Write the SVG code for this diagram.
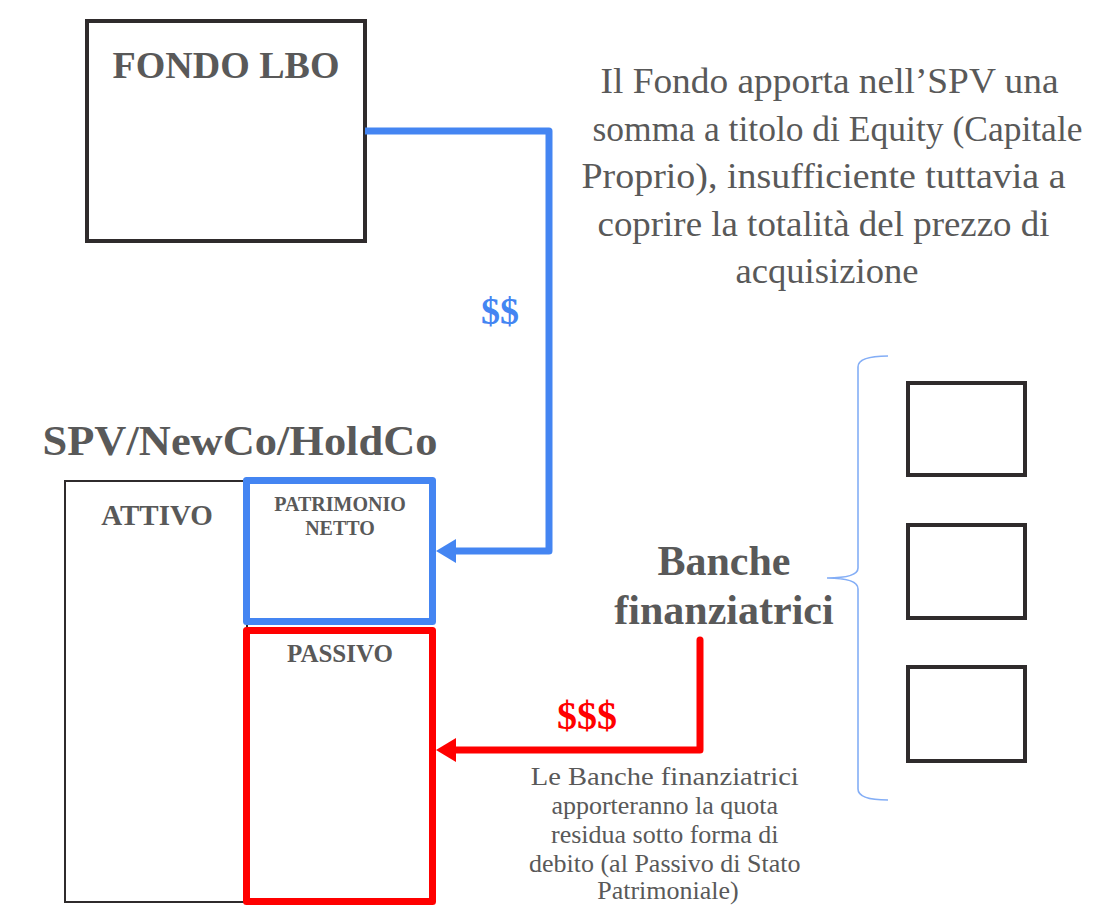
<svg xmlns="http://www.w3.org/2000/svg" width="1097" height="908" viewBox="0 0 1097 908">
<style>
.t{font-family:"Liberation Serif","Times New Roman",serif;fill:#595959;text-anchor:middle}
.b{font-weight:bold}
.box{fill:#fff;stroke:#2f2b2c}
.conn{fill:none;stroke-width:7;stroke-linejoin:round}
</style>
<defs>
<marker id="ab" markerUnits="userSpaceOnUse" markerWidth="22" markerHeight="26" refX="1" refY="12" orient="auto"><path d="M0,0 L20,12 L0,24 z" fill="#4485f2"/></marker>
<marker id="ar" markerUnits="userSpaceOnUse" markerWidth="22" markerHeight="26" refX="1" refY="12" orient="auto"><path d="M0,0 L20,12 L0,24 z" fill="#ff0000"/></marker>
</defs>
<rect width="1097" height="908" fill="#fff"/>
<g id="fondo">
<rect class="box" x="87" y="21" width="278" height="220" stroke-width="4"/>
<text class="t b" x="226" y="78" font-size="38">FONDO LBO</text>
</g>
<g id="nota-fondo">
<text class="t" font-size="36">
<tspan x="834" y="93" textLength="458" lengthAdjust="spacingAndGlyphs">Il Fondo apporta nell’SPV una</tspan>
<tspan x="842" y="141" textLength="490" lengthAdjust="spacingAndGlyphs">somma a titolo di Equity (Capitale</tspan>
<tspan x="828" y="188" textLength="484" lengthAdjust="spacingAndGlyphs">Proprio), insufficiente tuttavia a</tspan>
<tspan x="828" y="236" textLength="452" lengthAdjust="spacingAndGlyphs">coprire la totalità del prezzo di</tspan>
<tspan x="827" y="283" textLength="183" lengthAdjust="spacingAndGlyphs">acquisizione</tspan>
</text>
</g>
<g id="spv">
<text class="t b" x="240" y="455" font-size="42" textLength="395" lengthAdjust="spacingAndGlyphs">SPV/NewCo/HoldCo</text>
</g>
<g id="attivo">
<rect class="box" x="65" y="481" width="182" height="421" stroke-width="2"/>
<text class="t b" x="157" y="525" font-size="29">ATTIVO</text>
</g>
<g id="patrimonio-netto">
<rect x="246.5" y="480.5" width="186" height="141" fill="#fff" stroke="#4485f2" stroke-width="7" stroke-linejoin="round"/>
<text class="t b" font-size="20"><tspan x="340" y="511">PATRIMONIO</tspan><tspan x="340" y="535">NETTO</tspan></text>
</g>
<g id="passivo">
<rect x="246.5" y="630.5" width="186" height="271" fill="#fff" stroke="#ff0000" stroke-width="7" stroke-linejoin="round"/>
<text class="t b" x="340" y="662" font-size="25">PASSIVO</text>
</g>
<g id="banche">
<text class="t b" font-size="42"><tspan x="724" y="575">Banche</tspan><tspan x="724" y="624">finanziatrici</tspan></text>
</g>
<g id="brace">
<path d="M888,356 Q858,356 858,367 L858,568 Q858,578 827,578 Q858,578 858,589 L858,789 Q858,800 888,800" fill="none" stroke="#84aef6" stroke-width="1.6"/>
</g>
<g id="banca1"><rect class="box" x="908" y="383" width="117" height="92" stroke-width="4"/></g>
<g id="banca2"><rect class="box" x="908" y="525" width="117" height="93" stroke-width="4"/></g>
<g id="banca3"><rect class="box" x="908" y="667" width="117" height="94" stroke-width="4"/></g>
<g id="connectors">
<path class="conn" d="M365,131 L549,131 L549,551 L455,551" stroke="#4485f2" marker-end="url(#ab)"/>
<path class="conn" d="M700,640 L700,750 L455,750" stroke="#ff0000" stroke-linecap="round" marker-end="url(#ar)"/>
<text class="b" x="500" y="324" font-size="38" fill="#4485f2" text-anchor="middle" font-family="Liberation Serif,serif">$$</text>
<text class="b" x="587" y="729" font-size="40" fill="#ff0000" text-anchor="middle" font-family="Liberation Serif,serif">$$$</text>
<text class="t" font-size="26">
<tspan x="668" y="785" textLength="268" lengthAdjust="spacingAndGlyphs">Le Banche finanziatrici</tspan>
<tspan x="668" y="814">apporteranno la quota</tspan>
<tspan x="668" y="843">residua sotto forma di</tspan>
<tspan x="668" y="872">debito (al Passivo di Stato</tspan>
<tspan x="668" y="899">Patrimoniale)</tspan>
</text>
</g>
</svg>
